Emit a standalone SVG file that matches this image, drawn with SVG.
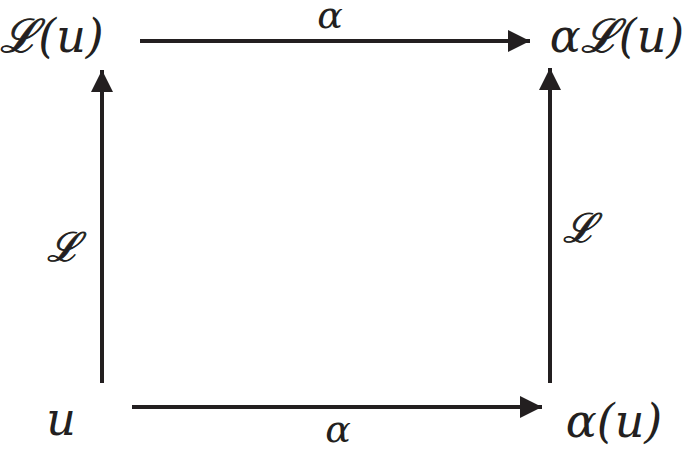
<svg xmlns="http://www.w3.org/2000/svg" width="685" height="449" viewBox="0 0 685 449">
<style>
.t{font-family:"DejaVu Serif","Liberation Serif",serif;font-style:italic;font-size:46px;fill:#231f20}
.l{font-family:"DejaVu Serif","Liberation Serif",serif;font-style:italic;font-size:40px;fill:#231f20}
.a{font-family:"DejaVu Serif","Liberation Serif",serif;font-style:italic;font-size:38px;fill:#231f20}
.s{stroke:#231f20;stroke-width:0.9px}
.c{stroke:#231f20;stroke-width:4;fill:none}
</style>
<defs>
<marker id="ah" viewBox="0 0 10 10" refX="10" refY="5" markerWidth="22" markerHeight="22" markerUnits="userSpaceOnUse" orient="auto">
<path d="M0,0 L10,5 L0,10 Z" fill="#231f20"/>
</marker>
</defs>
<rect width="685" height="449" fill="#fff"/>
<g id="connectors">
<line class="c" x1="140" y1="41" x2="530" y2="41" marker-end="url(#ah)"/>
<line class="c" x1="132" y1="407" x2="542" y2="407" marker-end="url(#ah)"/>
<line class="c" x1="102" y1="383" x2="102" y2="70" marker-end="url(#ah)"/>
<line class="c" x1="550" y1="383" x2="550" y2="68" marker-end="url(#ah)"/>
<text class="a" x="330" y="28" text-anchor="middle">α</text>
<text class="a" x="338" y="442" text-anchor="middle">α</text>
<text class="l s" x="63" y="261" text-anchor="middle">ℒ</text>
<text class="l s" x="579" y="242" text-anchor="middle">ℒ</text>
</g>
<g id="node-Lu"><text class="t" x="52" y="52" text-anchor="middle"><tspan class="s">ℒ</tspan>(u)</text></g>
<g id="node-aLu"><text class="t" x="617" y="52" text-anchor="middle">α<tspan class="s">ℒ</tspan>(u)</text></g>
<g id="node-u"><text class="t" x="61" y="435" text-anchor="middle">u</text></g>
<g id="node-au"><text class="t" x="614" y="437" text-anchor="middle">α(u)</text></g>
</svg>
